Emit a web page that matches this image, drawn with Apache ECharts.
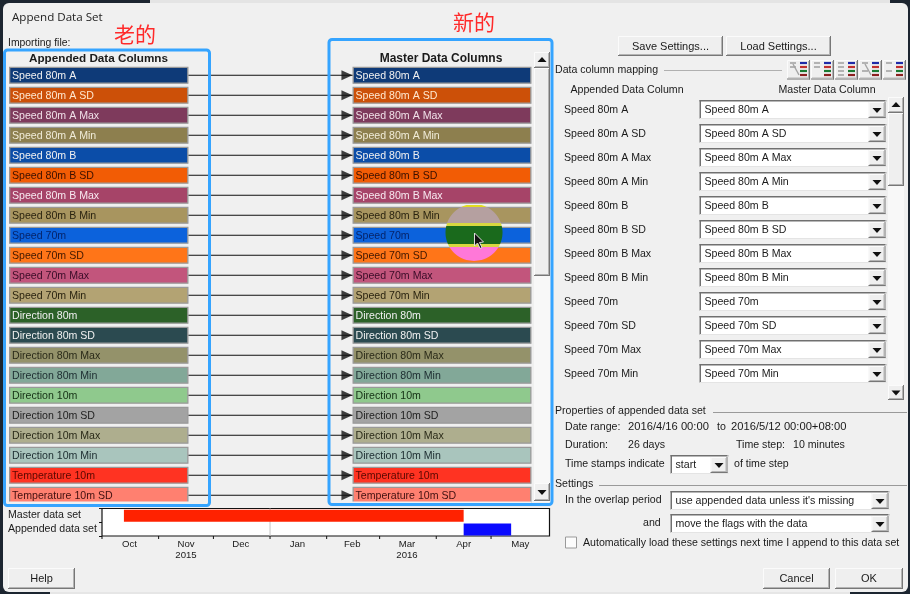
<!DOCTYPE html>
<html><head><meta charset="utf-8">
<style>html,body{margin:0;padding:0;background:#1c2530}#c{width:910px;height:594px}</style>
<script src="https://cdn.jsdelivr.net/npm/echarts@6/dist/echarts.min.js"></script>
</head><body><div id="c"></div>
<script>
const columnNames = ['Speed 80m A','Speed 80m A SD','Speed 80m A Max','Speed 80m A Min','Speed 80m B','Speed 80m B SD','Speed 80m B Max','Speed 80m B Min','Speed 70m','Speed 70m SD','Speed 70m Max','Speed 70m Min','Direction 80m','Direction 80m SD','Direction 80m Max','Direction 80m Min','Direction 10m','Direction 10m SD','Direction 10m Max','Direction 10m Min','Temperature 10m','Temperature 10m SD'];
const columnColors = ['#0e3a78','#cc5008','#7e3a5c','#8d7f4e','#0b4da8','#f25c05','#a64468','#a8955f','#0c62dc','#ff7518','#c2557c','#b3a373','#2c6128','#2b4a50','#94926a','#82a898','#8fc98d','#a3a3a3','#aeae8e','#a9c5bd','#ff3322','#ff8070'];
const columnTextColors = ['#f0f0f0','#ffe8d0','#f0e0e8','#f0ecd8','#f0f0f0','#3a1000','#f8e8f0','#2a2410','#06246a','#401800','#3a0c28','#2a2410','#f0f0f0','#f0f0f0','#2a2a18','#1c2c30','#143014','#222222','#2a2a18','#1c2c30','#5a0800','#401010'];
const spanFull = columnNames.map(() => 1);
const arrowPosition = 0.966;
const timelineRows = ['Appended data set','Master data set'];
const masterRange = ['2015-10-13','2016-04-16'];
const appendedRange = ['2016-04-16','2016-05-12'];
const monthTicks = ['2015-10-01','2015-11-01','2015-12-01','2016-01-01','2016-02-01','2016-03-01','2016-04-01','2016-05-01'];
const monthLabels = ['Oct','Nov\n2015','Dec','Jan','Feb','Mar\n2016','Apr','May'];
const monthLabelDates = ['2015-10-16','2015-11-16','2015-12-16','2016-01-16','2016-02-15','2016-03-16','2016-04-16','2016-05-17'];
const mappingRows = columnNames.slice(0, 12);

const F = '"Liberation Sans", Arial, sans-serif';
const CJK = '"Noto Sans CJK SC", sans-serif';
const FS = 10.6;
const g = [];
function rect(x,y,w,h,fill,stroke,z,r,lw){g.push({type:'rect',z:z||1,silent:true,shape:{x,y,width:w,height:h,r:r||0},style:{fill:fill||'none',stroke:stroke||null,lineWidth:stroke?(lw||1):0}});}
function line(x1,y1,x2,y2,c,z,w){g.push({type:'line',z:z||2,silent:true,shape:{x1,y1,x2,y2},style:{stroke:c,lineWidth:w||1}});}
function text(x,y,t,o){o=o||{};g.push({type:'text',z:o.z||5,silent:true,x,y,style:{text:t,fill:o.c||'#1a1a1a',font:(o.w||'normal')+' '+(o.s||FS)+'px '+(o.f||F),textAlign:o.a||'left',textVerticalAlign:'middle'}});}
function poly(pts,fill,z,stroke){g.push({type:'polygon',z:z||4,silent:true,shape:{points:pts},style:{fill,stroke:stroke||null,lineWidth:stroke?1:0}});}
function raised(x,y,w,h,z){z=z||2;rect(x,y,w,h,'#efefef',null,z);
  line(x+.5,y+.5,x+w,y+.5,'#fbfbfb',z+.1);line(x+.5,y+.5,x+.5,y+h,'#fbfbfb',z+.1);
  line(x,y+h-.5,x+w,y+h-.5,'#777',z+.1,1);line(x+w-.5,y,x+w-.5,y+h,'#777',z+.1,1);
  line(x+1,y+h-1.5,x+w-1,y+h-1.5,'#b4b4b4',z+.1);line(x+w-1.5,y+1,x+w-1.5,y+h-1,'#b4b4b4',z+.1);}
function arrowBtn(x,y,w,h,up,z){raised(x,y,w,h,z);const cx=x+w/2,cy=y+h/2;
  poly(up?[[cx-4.5,cy+2],[cx+4.5,cy+2],[cx,cy-3]]:[[cx-4.5,cy-2],[cx+4.5,cy-2],[cx,cy+3]],'#111',(z||2)+.5);}
function combo(x,y,w,h,t){rect(x,y,w,h,'#fff',null,2);
  line(x,y+.75,x+w,y+.75,'#707070',3,1.5);line(x+.75,y,x+.75,y+h,'#707070',3,1.5);
  line(x,y+h-.5,x+w,y+h-.5,'#e4e4e4',3);line(x+w-.5,y,x+w-.5,y+h,'#e4e4e4',3);
  arrowBtn(x+w-18,y+2,17,h-3,false,3.5);text(x+5,y+h/2+.5,t);}
function button(x,y,w,h,t){raised(x,y,w,h);text(x+w/2,y+h/2+.5,t,{a:'center',s:11});}

// window frame
rect(0,0,910,594,'#1c2530',null,-5);
rect(150,0,740,3,'#e4e4e4',null,-4);rect(50,592,800,2,'#e6e6e6',null,-4);
rect(3,3,905,589,'#f0f0f0',null,-3,6);
text(12,18,'Append Data Set',{s:11.6,c:'#222',f:'"Open Sans",'+F});
text(8,43,'Importing file:',{s:10.4});
text(135,34,'老的',{s:21,c:'#ff2a2a',f:CJK,a:'center',z:30});
text(474,22,'新的',{s:21,c:'#ff2a2a',f:CJK,a:'center',z:30});
// column headings
text(98.5,59,'Appended Data Columns',{a:'center',w:'bold',s:11.7});
text(441,59,'Master Data Columns',{a:'center',w:'bold',s:12});
// clip below last row
rect(6,501.5,200,3,'#f0f0f0',null,20);rect(345,501.5,186.6,3,'#f0f0f0',null,20);
// blue highlight boxes
rect(4.5,50,205,455.5,null,'#35a4ff',25,3,3);
rect(329,39.5,223,465,null,'#35a4ff',25,3,3);
// left list scrollbar
rect(534,52,16,450,'#f8f8f8',null,1);
arrowBtn(534,52,16,16,true);raised(534,68,16,208);arrowBtn(534,483,16,18,false);
// top right buttons
button(618,36,105,20,'Save Settings...');button(726,36,105,20,'Load Settings...');
text(555,70,'Data column mapping');
line(664,70.5,782,70.5,'#b0b0b0');
// toolbar icons
const iconRowY=[63,67,71,75];
const iconColors=['#1f2aa8','#c03030','#187a30','#8a1f1f'];
const iconSets=[[0,1],[0,1],[0,1,2,3],[0,2],[0,2]];
[787,811,835,859,883].forEach((x,i)=>{raised(x,60,23,19.5);
  iconRowY.forEach((y,j)=>{line(x+13,y,x+20,y,iconColors[j],3,2.2);});
  iconSets[i].forEach(j=>{line(x+3,iconRowY[j],x+9,iconRowY[j],'#a4a4a4',3,1.6);});
  if(i===0||i===3)line(x+6,64,x+12,75,'#a4a4a4',3,1.4);
});
text(627,90,'Appended Data Column',{a:'center'});
text(827,90,'Master Data Column',{a:'center'});
// mapping rows
mappingRows.forEach((n,i)=>{const y=110+24*i;text(564,y,n);combo(699.5,y-10,187,19,n);});
rect(888,97,16,303,'#f8f8f8',null,1);
arrowBtn(888,97,16,16,true);raised(888,113,16,73);arrowBtn(888,385,16,15,false);
// properties
text(555,411,'Properties of appended data set');line(713,412.5,907,412.5,'#9a9a9a');
text(565,427,'Date range:');text(628,427,'2016/4/16 00:00',{s:11.2});text(717,427,'to');text(731,427,'2016/5/12 00:00+08:00',{s:11.2});
text(565,445,'Duration:');text(628,445,'26 days');text(736,445,'Time step:');text(793,445,'10 minutes');
text(565,464,'Time stamps indicate');combo(670.5,455,58,19,'start');text(734,464,'of time step');
text(555,484,'Settings');line(599,485.5,907,485.5,'#9a9a9a');
text(565,500,'In the overlap period');combo(670.5,491,219,19,"use appended data unless it's missing");
text(643,523,'and');combo(670.5,514,219,19,'move the flags with the data');
rect(565.5,537,11,11,'#fcfcfc','#9a9a9a',2);
text(583,543,'Automatically load these settings next time I append to this data set');
button(8,568,67,21,'Help');button(763,568,67,21,'Cancel');button(835,568,68,21,'OK');

// recording highlight over the master columns
function band(y1,y2,color){const cx=474,cy=232.5,r=28.5,L=[],R=[];
  for(let y=Math.max(y1,cy-r);y<=Math.min(y2,cy+r)+.001;y+=1){const d=Math.sqrt(Math.max(0,r*r-(y-cy)*(y-cy)));L.push([cx-d,y]);R.unshift([cx+d,y]);}
  if(L.length>1)poly(L.concat(R),color,15);}
band(205,207,'#e2dc20');band(207,223,'#b5a0a0');band(223,226,'#d8d840');band(226,244,'#1a6a1c');band(244,247,'#d8d840');band(247,261,'#ff78d8');
poly([[474.5,233],[474.5,246],[477.5,243],[480,248.5],[482,247.5],[479.5,242.5],[483.5,242]],'#111',16,'#ddd');

const rowAxis = (i) => ({type:'category',gridIndex:i,inverse:true,data:columnNames,show:false});
const fullAxis = (i) => ({type:'value',gridIndex:i,min:0,max:1,show:false});
const columnBars = (i,name) => ({type:'bar',name,xAxisIndex:i,yAxisIndex:i,barWidth:17,silent:true,
  data:spanFull.map((v,k)=>({value:v,itemStyle:{color:columnColors[k],borderColor:'#999',borderWidth:1.3},label:{color:columnTextColors[k]}})),
  label:{show:true,position:'insideLeft',distance:3,offset:[0,1],fontFamily:F,fontSize:FS,textBorderWidth:0,textBorderColor:'transparent',textShadowBlur:0,formatter:p=>p.name}});

const chart = echarts.init(document.getElementById('c'),null,{renderer:'canvas'});
chart.setOption({
  animation:false,
  backgroundColor:'transparent',
  grid:[
    {left:9,top:65.3,width:179.5,height:440},
    {left:352.5,top:65.3,width:179,height:440},
    {left:188.5,top:65.3,width:164,height:440},
    {left:102,top:508.5,width:447.5,height:27.5,backgroundColor:'#fff',show:true,borderColor:'#111',borderWidth:1.2}
  ],
  xAxis:[fullAxis(0),fullAxis(1),fullAxis(2),
    {type:'time',gridIndex:3,min:'2015-10-01',max:'2016-06-02',
     axisLine:{show:false},axisTick:{show:false},axisLabel:{show:false},splitLine:{show:false}}],
  yAxis:[rowAxis(0),rowAxis(1),rowAxis(2),
    {type:'category',gridIndex:3,data:timelineRows,
     axisLine:{show:false},axisTick:{show:true,length:3,lineStyle:{color:'#111'}},
     axisLabel:{interval:0,fontFamily:F,fontSize:FS,color:'#1a1a1a',margin:94,align:'left',padding:[6,0,0,0],hideOverlap:false}}],
  series:[
    columnBars(0,'Appended Data Columns'),
    columnBars(1,'Master Data Columns'),
    {type:'bar',name:'links',xAxisIndex:2,yAxisIndex:2,barWidth:1,silent:true,itemStyle:{color:'#111'},data:spanFull},
    {type:'scatter',name:'link arrows',xAxisIndex:2,yAxisIndex:2,silent:true,symbol:'triangle',symbolRotate:-90,symbolSize:[10,11],itemStyle:{color:'#111'},z:4,
     data:columnNames.map(n=>[arrowPosition,n])},
    {type:'custom',name:'Month ticks',xAxisIndex:3,yAxisIndex:3,silent:true,clip:false,z:2,
     data:monthTicks.map(d=>[d,0]),encode:{x:0,y:1},
     renderItem:(p,api)=>{const a=api.coord([api.value(0),0]);const bot=p.coordSys.y+p.coordSys.height;
       const kids=[{type:'line',shape:{x1:a[0],y1:bot,x2:a[0],y2:bot+3},style:{stroke:'#111',lineWidth:1}}];
       if(p.dataIndex===3)kids.push({type:'line',shape:{x1:a[0],y1:p.coordSys.y,x2:a[0],y2:bot},style:{stroke:'#c4c4c4',lineWidth:1}});
       return {type:'group',children:kids};}},
    {type:'custom',name:'Data sets',xAxisIndex:3,yAxisIndex:3,silent:true,clip:true,z:3,
     encode:{x:[0,1],y:2},
     data:[[masterRange[0],masterRange[1],1],[appendedRange[0],appendedRange[1],0]],
     renderItem:(p,api)=>{const a=api.coord([api.value(0),api.value(2)]),b=api.coord([api.value(1),api.value(2)]);
       return {type:'rect',shape:{x:a[0],y:a[1]-5.6,width:b[0]-a[0],height:12},style:{fill:p.dataIndex===0?'#ff2200':'#0a0aff'}};}},
    {type:'custom',name:'Month labels',xAxisIndex:3,yAxisIndex:3,silent:true,clip:false,
     data:monthLabelDates.map((d,i)=>[d,0]),encode:{x:0,y:1},
     renderItem:(p,api)=>{const a=api.coord([api.value(0),0]);const bot=p.coordSys.y+p.coordSys.height;
       return {type:'text',x:a[0],y:bot+3.5,style:{text:monthLabels[p.dataIndex],fill:'#1a1a1a',font:'9.6px '+F,textAlign:'center',textVerticalAlign:'top',lineHeight:10.5}};}}
  ],
  graphic:{elements:g}
});
</script></body></html>
